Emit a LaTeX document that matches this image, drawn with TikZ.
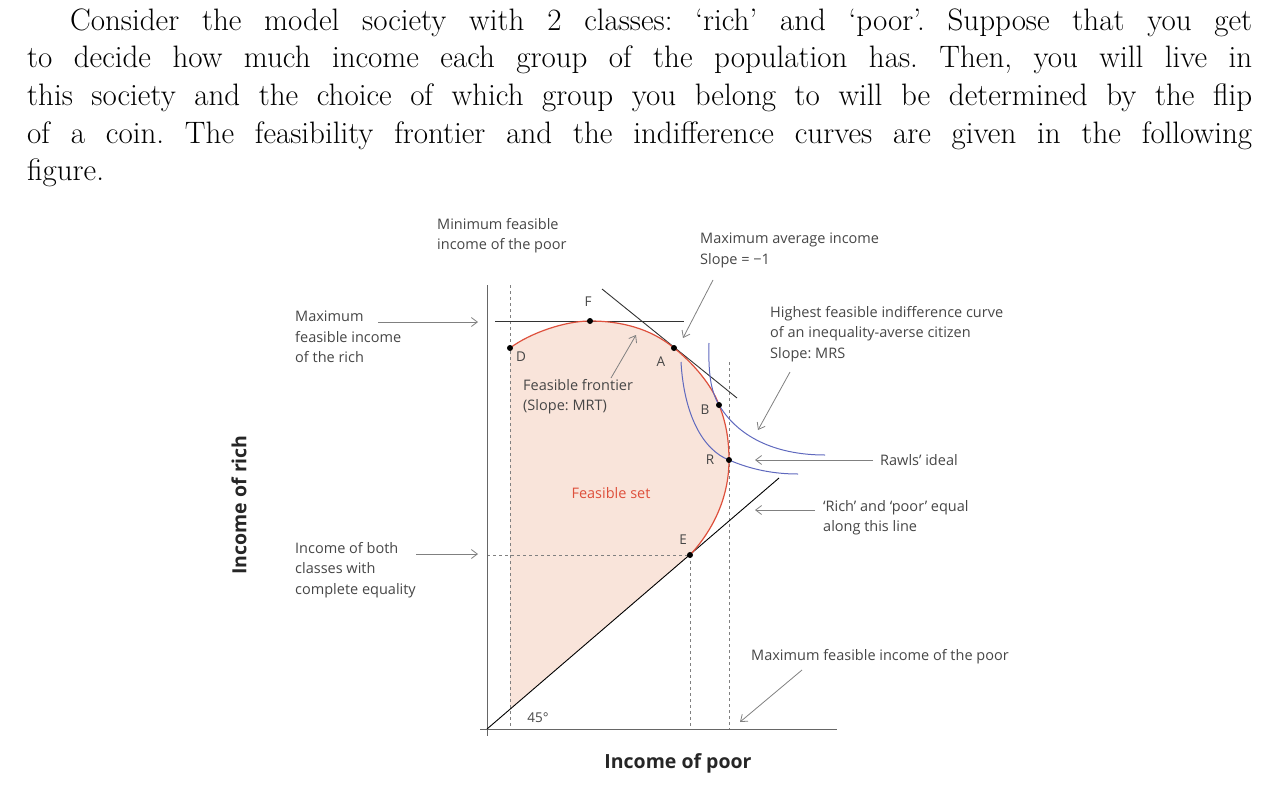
\documentclass[tikz,border=0pt]{standalone}
\usepackage{fontspec}
\setmainfont{Latin Modern Roman}
\newfontfamily\diagfont{Open Sans}
\usetikzlibrary{arrows.meta}
\definecolor{frontred}{RGB}{222,80,60}
\definecolor{fillpink}{RGB}{249,228,218}
\definecolor{icblue}{RGB}{95,105,190}
\definecolor{lblgray}{RGB}{70,70,70}
\frenchspacing
\tikzset{
  hline/.style={font=\fontsize{31}{36}\selectfont, anchor=base west, inner sep=0},
  lbl/.style={font=\diagfont\fontsize{14.5}{20.5}\selectfont, text=lblgray, anchor=north west, inner sep=0, align=left},
  pt/.style={circle, fill=black, inner sep=0, minimum size=6pt},
  ptl/.style={font=\diagfont\fontsize{13.5}{16}\selectfont, text=lblgray, inner sep=0},
  garrow/.style={draw=gray, -{Straight Barb[length=6pt,width=9pt]}, line width=0.8pt},
  dline/.style={draw=gray, dashed, line width=0.6pt},
}
\begin{document}
\begin{tikzpicture}[x=1pt,y=-1pt]
\useasboundingbox (0,0) rectangle (1288,790);
% heading
\node[hline] (h1) at (70,30) {\makebox[1182pt][s]{Consider the model society with 2 classes: ‘rich’ and ‘poor’. Suppose that you get}};
\node[hline] (h2) at (27,67) {\makebox[1225pt][s]{to decide how much income each group of the population has. Then, you will live in}};
\node[hline] (h3) at (27,105) {\makebox[1225pt][s]{this society and the choice of which group you belong to will be determined by the flip}};
\node[hline] (h4) at (27,143) {\makebox[1225pt][s]{of a coin. The feasibility frontier and the indifference curves are given in the following}};
\node[hline] (h5) at (27,180) {figure.};
% points
\coordinate (O) at (487,729);
\coordinate (D) at (510,348);
\coordinate (F) at (590,321);
\coordinate (A) at (674,348);
\coordinate (B) at (719,405);
\coordinate (R) at (729,460);
\coordinate (E) at (690,555);
% fill
\fill[fillpink] (D) .. controls (530,333) and (565,321) .. (F)
  .. controls (620,321) and (650,328) .. (A)
  .. controls (692,362) and (712,385) .. (B)
  .. controls (726,422) and (729,440) .. (R)
  .. controls (729,495) and (715,528) .. (E)
  -- (510,709) -- cycle;
% dashed guides
\draw[dline] (510,285) -- (510,729);
\draw[dline] (690,555) -- (690,729);
\draw[dline] (729,362) -- (729,729);
\draw[dline] (487,555) -- (E);
% axes
\draw[gray!80!black, line width=0.9pt] (487,285) -- (487,736);
\draw[gray!80!black, line width=0.9pt] (480,729) -- (837,729);
% 45 line
\draw[black, line width=0.9pt] (O) -- (779,478);
% horizontal tangent and tangent at A
\draw[black!80, line width=0.9pt] (495,321) -- (684,321);
\draw[black!80, line width=0.9pt] (602,289) -- (737,398);
% frontier
\draw[frontred, line width=1.2pt] (D) .. controls (530,333) and (565,321) .. (F)
  .. controls (620,321) and (650,328) .. (A)
  .. controls (692,362) and (712,385) .. (B)
  .. controls (726,422) and (729,440) .. (R)
  .. controls (729,495) and (715,528) .. (E);
% indifference curves
\draw[icblue, line width=1pt] (681,362) .. controls (684,415) and (703,450) .. (R) .. controls (752,470) and (775,474) .. (798,474);
\draw[icblue, line width=1pt] (709,343) .. controls (708,378) and (712,393) .. (B) .. controls (740,440) and (780,455) .. (825,455);
% points
\foreach \p in {D,F,A,B,R,E} \node[pt] at (\p) {};
\node[ptl] (lF) at (588,302) {F};
\node[ptl] (lD) at (521,357) {D};
\node[ptl] (lA) at (661,362) {A};
\node[ptl] (lB) at (705,410) {B};
\node[ptl] (lR) at (710,460) {R};
\node[ptl] (lE) at (683,540) {E};
% labels
\node[lbl] (minpoor) at (437,218) {Minimum feasible\\income of the poor};
\node[lbl] (maxavg) at (700,233) {Maximum average income\\Slope = −1};
\coordinate (maxavgT) at (713,280);
\draw[garrow] (maxavgT) -- (683,338);
\node[lbl] (ff) at (523,379) {Feasible frontier\\(Slope: MRT)};
\coordinate (ffT) at (611,378);
\draw[garrow] (ffT) -- (636,335);
\node[lbl] (hic) at (770,306) {Highest feasible indifference curve\\of an inequality-averse citizen\\Slope: MRS};
\coordinate (hicT) at (790,372);
\draw[garrow] (hicT) -- (758,430);
\node[lbl] (maxrich) at (295,311) {Maximum\\feasible income\\of the rich};
\coordinate (mrT) at (378,322);
\draw[garrow] (mrT) -- (478,322);
\node[lbl, anchor=west] (rawls) at (880,460) {Rawls’ ideal};
\coordinate (rT) at (873,460);
\draw[garrow] (rT) -- (755,460);
\node[font=\diagfont\fontsize{14.5}{18}\selectfont, text=frontred] (fs) at (611,493) {Feasible set};
\node[lbl] (eq) at (823,500) {‘Rich’ and ‘poor’ equal\\along this line};
\coordinate (eqT) at (815,510);
\draw[garrow] (eqT) -- (755,510);
\node[lbl] (both) at (295,542) {Income of both\\classes with\\complete equality};
\coordinate (bT) at (416,554);
\draw[garrow] (bT) -- (478,554);
\node[lbl, anchor=west] (maxpoor) at (751,657) {Maximum feasible income of the poor};
\coordinate (mpT) at (802,670);
\draw[garrow] (mpT) -- (740,722);
\node[ptl] (deg) at (538,718) {45°};
\node[font=\diagfont\bfseries\fontsize{19.5}{22}\selectfont, text=black!85] (xl) at (678,763) {Income of poor};
\node[font=\diagfont\bfseries\fontsize{19.5}{22}\selectfont, text=black!85, rotate=90] (yl) at (239,505) {Income of rich};
\end{tikzpicture}
\end{document}
